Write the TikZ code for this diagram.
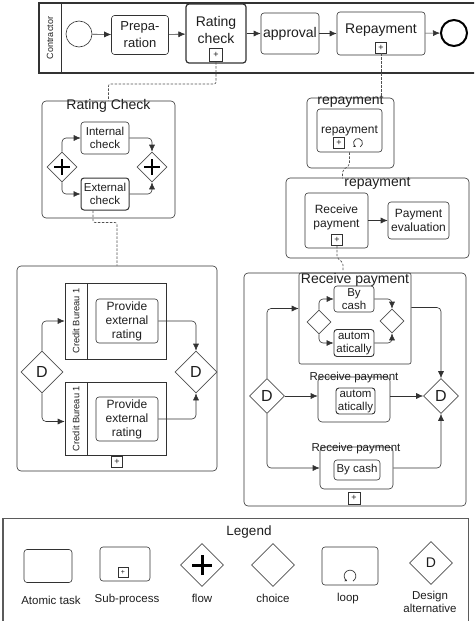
\documentclass[tikz,border=0pt]{standalone}
\usepackage{fontspec}
\setmainfont{Liberation Sans}
\usetikzlibrary{arrows.meta,positioning,calc,shapes.geometric}
\definecolor{lineGray}{RGB}{50,50,50}
\definecolor{textGray}{RGB}{30,30,30}
\definecolor{gateGray}{RGB}{80,80,80}
\newcommand{\fsz}[2]{\fontsize{#1}{#2}\selectfont}
\tikzset{
  loopmark/.pic={\draw[lineGray,line width=0.7pt,-{Stealth[length=2.5pt,width=3pt]}]
    (60:4.5) arc[start angle=60,end angle=-240,radius=4.5];}
}

\begin{document}
\begin{tikzpicture}[
    x=1pt,y=-1pt,line width=0.6pt,
    every node/.style={text=textGray},
    task/.style={draw=lineGray,rounded corners=3pt,align=center,inner sep=1pt,
      font=\fsz{12}{14}},
    box/.style={draw=lineGray,rounded corners=4pt,inner sep=0pt},
    title/.style={inner sep=0pt,font=\fsz{14}{16}},
    gate/.style={draw=gateGray,diamond,aspect=1,inner sep=0pt,fill=white},
    submark/.style={draw=lineGray,fill=white,minimum size=11pt,inner sep=0pt,font=\fsz{9}{9}},
    flow/.style={-{Latex[length=7pt,width=6pt]},draw=lineGray,rounded corners=4pt},
    link/.style={draw=lineGray!85,dash pattern=on 2.5pt off 1.5pt,rounded corners=2pt},
    plusbar/.style={draw=black,line width=2pt},
    lane/.style={draw=lineGray,line width=1.1pt}
  ]
    \useasboundingbox (0,0) rectangle (474,621);
    \clip (0,0) rectangle (474,621);

    % contractor lane
    \draw[lane] (39,3) rectangle (480,73);
    \draw[lineGray] (61,3) -- (61,73);
    \node[rotate=90,font=\fsz{9}{9}] (contractor) at (50,38) {Contractor};
    \node[circle,draw=lineGray,minimum size=26pt,inner sep=0pt] (start) at (79,34) {};
    \node[task,minimum width=57pt,minimum height=39pt,font=\fsz{13}{17}] (prep) at (140,35) {Prepa-\\ration};
    \node[task,minimum width=60pt,minimum height=59pt,line width=1.2pt,font=\fsz{14}{17},text depth=8pt] (rate) at (216,33.5) {Rating\\check};
    \node[submark,minimum size=13pt,line width=1pt] (ratem) at (216,55) {+};
    \node[task,minimum width=58pt,minimum height=41pt,font=\fsz{14}{17}] (appr) at (290,33.5) {approval};
    \node[task,minimum width=88pt,minimum height=43pt,font=\fsz{14}{17},text depth=9pt] (repay) at (381,33.5) {Repayment};
    \node[submark] (repaym) at (381,47.5) {+};
    \node[circle,draw=black,line width=2pt,minimum size=26pt,inner sep=0pt] (end) at (454,33) {};
    \draw[flow] (start) -- (prep);
    \draw[flow] (prep) -- (rate);
    \draw[flow] (rate) -- (appr);
    \draw[flow] (appr) -- (repay);
    \draw[flow] (repay) -- (end);

    % rating check
    \node[box,minimum width=133pt,minimum height=117pt] (rcbox) at (108.5,159.5) {};
    \node[title] (rctitle) at (108.5,106) {Rating Check};
    \node[task,minimum width=48pt,minimum height=32pt,font=\fsz{11.5}{13.5}] (ic) at (105,138) {Internal\\check};
    \node[task,minimum width=48pt,minimum height=32pt,line width=1pt,font=\fsz{11.5}{13.5}] (ec) at (105,194) {External\\check};
    \node[gate,minimum size=30pt] (lgw) at (62,167) {};
    \node[gate,minimum size=30pt] (rgw) at (152,167) {};
    \foreach \g in {lgw,rgw}{
      \draw[plusbar] ([xshift=-8pt]\g.center) -- ([xshift=8pt]\g.center);
      \draw[plusbar] ([yshift=-8pt]\g.center) -- ([yshift=8pt]\g.center);
    }
    \draw[flow] (lgw.north) |- (ic.west);
    \draw[flow] (lgw.south) |- (ec.west);
    \draw[flow] (ic.east) -| (rgw.north);
    \draw[flow] (ec.east) -| (rgw.south);
    \draw[link] (ratem.south) -- ++(0,22) -| (rcbox.north);

    % credit bureaus
    \node[box,minimum width=200pt,minimum height=205pt] (cbbox) at (117,368.5) {};
    \node[draw=lineGray,minimum width=101pt,minimum height=76pt,inner sep=0pt] (cb1) at (115.5,321) {};
    \node[draw=lineGray,minimum width=101pt,minimum height=73pt,inner sep=0pt] (cb2) at (115.5,418.5) {};
    \draw[lineGray] (87,283) -- (87,359);
    \draw[lineGray] (87,382) -- (87,455);
    \node[rotate=90,font=\fsz{9.3}{10}] (cb1lab) at (76,321) {Credit Bureau 1};
    \node[rotate=90,font=\fsz{9.3}{10}] (cb2lab) at (76,418.5) {Credit Bureau 1};
    \node[task,minimum width=62pt,minimum height=44pt] (pe1) at (127,321) {Provide\\external\\rating};
    \node[task,minimum width=62pt,minimum height=44pt] (pe2) at (127,419) {Provide\\external\\rating};
    \node[gate,minimum size=42pt,font=\fsz{16}{16}] (lD) at (42,372) {D};
    \node[gate,minimum size=42pt,font=\fsz{16}{16}] (rD) at (196,372) {D};
    \node[submark] (cbm) at (117,462) {+};
    \draw[flow] (lD.north) |- (cb1.west);
    \draw[flow] (lD.south) |- ([yshift=-3pt]cb2.west);
    \draw[flow] (pe1.east) -| (rD.north);
    \draw[flow] (pe2.east) -| (rD.south);
    \draw[link] ([xshift=-12pt]ec.south) -- ++(0,12) -| (cbbox.north);

    % repayment loop
    \node[box,minimum width=87pt,minimum height=70pt] (rpsbox) at (350.5,133) {};
    \node[title] (rpstitle) at (350.5,101) {repayment};
    \node[task,minimum width=65pt,minimum height=43pt] (rpt) at (349.5,130.5) {repayment};
    \node[submark] (rptm) at (339,143) {+};
    \pic at (358,143) {loopmark};
    \draw[link] (repaym.south) -- (repaym.south |- rpsbox.north);

    % repayment
    \node[box,minimum width=183pt,minimum height=80pt] (rpbox) at (377.5,218) {};
    \node[title] (rptitle) at (377.5,183) {repayment};
    \node[task,minimum width=63pt,minimum height=55pt,text depth=9pt] (rcv) at (336.5,220.5) {Receive\\payment};
    \node[submark] (rcvm) at (337,240) {+};
    \node[task,minimum width=61pt,minimum height=37pt] (pev) at (418.5,220.5) {Payment\\evaluation};
    \draw[flow] (rcv) -- (pev);
    \draw[link] (rpt.south) -- ++(0,13) -- ++(-7,5) -- ++(0,8);

    % receive payment alternatives
    \node[box,minimum width=222pt,minimum height=233pt] (rabox) at (355,389.5) {};
    \node[box,rounded corners=2pt,minimum width=112pt,minimum height=91pt] (sp1) at (355,318.5) {};
    \node[title] (sp1title) at (355,280) {Receive payment};
    \node[task,minimum width=40pt,minimum height=26pt,font=\fsz{11.5}{13}] (bc1) at (354,299) {By\\cash};
    \node[task,minimum width=40pt,minimum height=27pt,line width=0.9pt,font=\fsz{11.5}{13}] (au1) at (354,343) {autom\\atically};
    \node[gate,minimum size=24pt] (sl) at (319,322) {};
    \node[gate,minimum size=24pt] (sr) at (392,321) {};
    \draw[flow] (sl.north) |- (bc1.west);
    \draw[flow] (sl.south) |- (au1.west);
    \draw[flow] (bc1.east) -| (sr.north);
    \draw[flow] (au1.east) -| (sr.south);

    \node[box,minimum width=72pt,minimum height=45pt] (sp2) at (354,399.5) {};
    \node[inner sep=0pt,font=\fsz{11.5}{13}] (sp2title) at (354,378) {Receive payment};
    \node[task,minimum width=39pt,minimum height=26pt,line width=0.9pt,font=\fsz{11.5}{13}] (au2) at (355.5,401) {autom\\atically};
    \node[box,minimum width=73pt,minimum height=42pt] (sp3) at (356.5,468) {};
    \node[inner sep=0pt,font=\fsz{11.5}{13}] (sp3title) at (356,449) {Receive payment};
    \node[task,minimum width=46pt,minimum height=20pt,font=\fsz{11.5}{13}] (bc3) at (357,470) {By cash};
    \node[submark,minimum size=12pt] (ram) at (354,498) {+};
    \node[gate,minimum size=35pt,font=\fsz{16}{16}] (aD) at (267,396) {D};
    \node[gate,minimum size=35pt,font=\fsz{16}{16}] (bD) at (441,396) {D};
    \draw[flow] (aD.east) -- (aD.east -| sp2.west);
    \draw[flow] (sp2.east |- bD.west) -- (bD.west);
    \draw[flow] (aD.north) |- ([yshift=10pt]sp1.west);
    \draw[flow] ([yshift=11pt]sp1.east) -| (bD.north);
    \draw[flow] (aD.south) |- (sp3.west);
    \draw[flow] (sp3.east) -| (bD.south);
    \draw[link] (rcvm.south) -- ++(0,12) -- ++(6,5) -- ++(0,8);

    % legend
    \draw[lineGray!80,line width=0.8pt] (3,640) -- (3,518) -- (468,518) -- (468,640);
    \draw[lineGray!80,line width=1.6pt] (3,518) -- (3,640);
    \node[font=\fsz{13.5}{15}] (legend) at (249,532) {Legend};
    \node[task,minimum width=48pt,minimum height=33pt] (latomic) at (48,566) {};
    \node[task,minimum width=50pt,minimum height=34pt] (lsub) at (125,564) {};
    \node[submark,minimum size=10pt,font=\fsz{7}{7}] (lsubm) at (123,572) {+};
    \node[gate,minimum size=43pt] (lflow) at (202,565) {};
    \draw[draw=black,line width=3pt] ([xshift=-10pt]lflow.center) -- ([xshift=10pt]lflow.center);
    \draw[draw=black,line width=3pt] ([yshift=-10pt]lflow.center) -- ([yshift=10pt]lflow.center);
    \node[gate,minimum size=43pt] (lchoice) at (273,565) {};
    \node[task,minimum width=56pt,minimum height=38pt] (lloop) at (350,566) {};
    \pic[scale=1.3] at (350,576) {loopmark};
    \node[gate,minimum size=43pt,font=\fsz{14}{14}] (ldesign) at (431,563) {D};
    \foreach \n/\x/\y/\t in {latomic/51/600/Atomic task,lsub/127/600/Sub-process,
        lflow/202/598/flow,lchoice/273/598/choice,lloop/348/599/loop}
      \node[font=\fsz{11.5}{13}] (\n lab) at (\x,\y) {\t};
    \node[font=\fsz{11.5}{13},align=center] (ldesignlab) at (430,602) {Design\\alternative};
  \end{tikzpicture}
\end{document}
